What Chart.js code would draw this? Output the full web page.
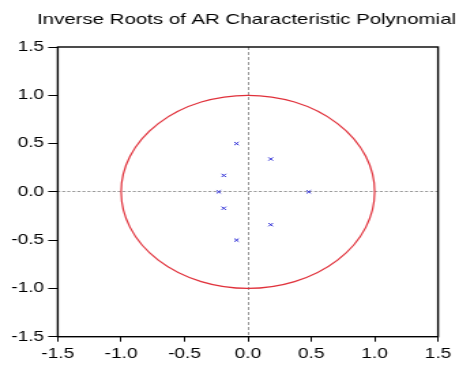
<!DOCTYPE html>
<html>
<head>
<meta charset="utf-8">
<script src="https://cdn.jsdelivr.net/npm/chart.js@4/dist/chart.umd.min.js"></script>
<style>
html,body{margin:0;padding:0;background:#fff;overflow:hidden;width:474px;height:380px;}
#c{display:block;width:362px;height:380px;transform:scaleX(1.362);transform-origin:0 0;}
</style>
</head>
<body>
<canvas id="c" width="362" height="380"></canvas>
<script>
// Data
const chartTitle = 'Inverse Roots of AR Characteristic Polynomial';
const rootReal = [-0.09, 0.18, -0.19, -0.23, 0.48, -0.19, 0.18, -0.09];
const rootImag = [0.50, 0.34, 0.17, 0.00, 0.00, -0.17, -0.34, -0.50];
const tickValues = [-1.5, -1.0, -0.5, 0.0, 0.5, 1.0, 1.5];
const unitCircleRadius = 1;

const points = rootReal.map((re, i) => ({x: re, y: rootImag[i]}));
const tickFont = {family: "'Liberation Sans', Arial, sans-serif", size: 14};

function setTicks(scale) { scale.ticks = tickValues.map(v => ({value: v})); }
function gridColor(ctx) {
  return ctx.tick && Math.abs(ctx.tick.value) < 1e-9 ? '#9a9a9a' : 'rgba(0,0,0,0)';
}

const framePlugin = {
  id: 'frame',
  beforeDatasetsDraw(chart) {
    const {ctx, scales: {x, y}} = chart;
    const cx = x.getPixelForValue(0), cy = y.getPixelForValue(0);
    const rx = x.getPixelForValue(unitCircleRadius) - cx;
    const ry = cy - y.getPixelForValue(unitCircleRadius);
    ctx.save();
    ctx.strokeStyle = '#e0303a';
    ctx.lineWidth = 1.2;
    ctx.beginPath();
    ctx.ellipse(cx, cy, rx, ry, 0, 0, Math.PI * 2);
    ctx.stroke();
    ctx.restore();
  },
  afterDraw(chart) {
    const {ctx, chartArea: a} = chart;
    ctx.save();
    ctx.strokeStyle = '#000';
    ctx.lineWidth = 1.4;
    ctx.strokeRect(a.left, a.top, a.right - a.left, a.bottom - a.top);
    ctx.restore();
  }
};

new Chart(document.getElementById('c'), {
  type: 'scatter',
  data: {datasets: [{data: points, pointStyle: 'crossRot', pointRadius: 2.3, borderColor: '#2b2bd6', backgroundColor: '#2b2bd6', borderWidth: 1, showLine: false}]},
  options: {
    responsive: false, animation: false, devicePixelRatio: 1,
    layout: {padding: 0},
    plugins: {
      legend: {display: false}, tooltip: {enabled: false},
      title: {display: true, text: chartTitle, color: '#000',
        font: {family: "'Liberation Sans', Arial, sans-serif", size: 15, weight: 'normal', lineHeight: 1.2},
        padding: {top: 10.5, bottom: 18.5}}
    },
    scales: {
      x: {type: 'linear', min: -1.5, max: 1.5, afterBuildTicks: setTicks, afterFit: s => { s.height = 43.3; },
        ticks: {color: '#000', font: tickFont, padding: 4, callback: v => v.toFixed(1), maxRotation: 0, autoSkip: false},
        grid: {color: gridColor, lineWidth: 1, drawTicks: true, tickLength: 5, tickColor: '#000', tickWidth: 1},
        border: {display: false, dash: [3, 2]}},
      y: {type: 'linear', min: -1.5, max: 1.5, afterBuildTicks: setTicks, afterFit: s => { s.width = 42.4; },
        ticks: {color: '#000', font: tickFont, padding: 3, callback: v => v.toFixed(1), autoSkip: false},
        grid: {color: gridColor, lineWidth: 1, drawTicks: true, tickLength: 7, tickColor: '#000', tickWidth: 1},
        border: {display: false, dash: [2.2, 1.5]}},
      y2: {type: 'linear', position: 'right', display: true, afterFit: s => { s.width = 40.4; },
        ticks: {display: false}, grid: {display: false}, border: {display: false}}
    }
  },
  plugins: [framePlugin]
});
</script>
</body>
</html>
